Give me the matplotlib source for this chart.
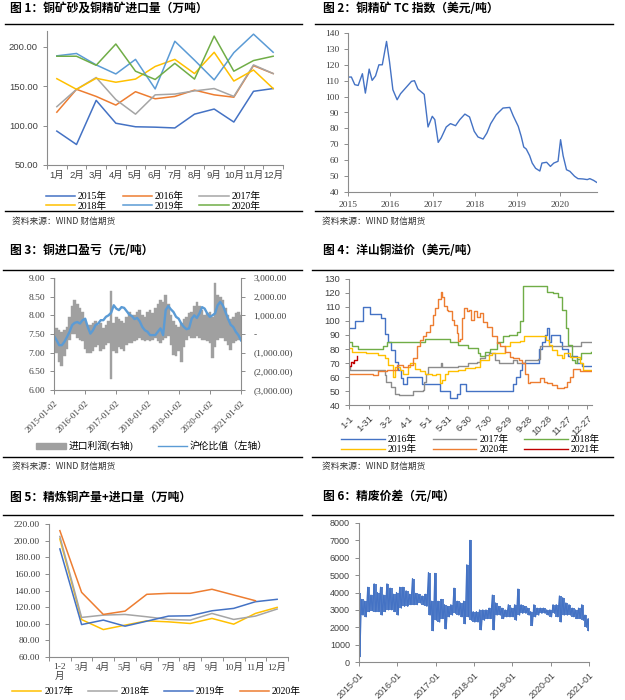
import numpy as np
import matplotlib
matplotlib.use('Agg')
import matplotlib.pyplot as plt
from matplotlib.lines import Line2D
from matplotlib.patches import Patch
from matplotlib.ticker import FuncFormatter, MultipleLocator

W, H = 625, 700
CJK = 'Noto Sans CJK SC'
SERIF = ['Liberation Serif', CJK]
SANS = ['Liberation Sans', CJK]

# ---- 图1 铜矿砂及铜精矿进口量 (万吨)
months1 = ['1月', '2月', '3月', '4月', '5月', '6月', '7月', '8月', '9月', '10月', '11月', '12月']
imp_2015 = [93, 76, 132, 103, 98.5, 98, 97, 114.5, 121, 104.5, 143.5, 147]
imp_2016 = [117, 146, 137, 126, 143, 134, 137, 145, 139, 136, 176, 166]
imp_2017 = [124, 146, 161, 133, 114.5, 139, 140, 144, 147, 137, 177, 166]
imp_2018 = [159.5, 146, 160, 155, 159, 175, 184, 166, 193, 156.5, 170.5, 147]
imp_2019 = [188.5, 191.5, 177, 165.5, 184, 146.5, 207, 183, 158, 192.5, 216, 193]
imp_2020 = [188, 188, 176.5, 203.5, 169, 158.5, 179, 159, 213.5, 169, 182.5, 188]

# ---- 图2 铜精矿TC指数 (美元/吨)
tc_year = [2015.0, 2015.08, 2015.16, 2015.24, 2015.34, 2015.41, 2015.5, 2015.57, 2015.65,
           2015.73, 2015.81, 2015.91, 2015.98, 2016.06, 2016.16, 2016.24, 2016.38, 2016.5,
           2016.57, 2016.65, 2016.8, 2016.89, 2016.99, 2017.05, 2017.13, 2017.2, 2017.32,
           2017.42, 2017.54, 2017.64, 2017.76, 2017.87, 2017.98, 2018.07, 2018.19, 2018.28,
           2018.37, 2018.5, 2018.66, 2018.82, 2018.9, 2019.02, 2019.09, 2019.15, 2019.21,
           2019.29, 2019.35, 2019.43, 2019.53, 2019.58, 2019.69, 2019.78, 2019.86, 2019.96,
           2020.02, 2020.08, 2020.16, 2020.24, 2020.35, 2020.43, 2020.55, 2020.65, 2020.71,
           2020.8, 2020.87]
tc_value = [112.3, 112.3, 107.5, 107, 114.4, 102.2, 117.3, 110.2, 113, 120, 120, 134.7, 122,
            104.3, 98, 101.8, 106, 109.6, 110, 104.8, 101.4, 80.9, 87.6, 85.5, 71.2, 74, 80.9,
            83, 81.7, 85.5, 89, 87.2, 78.2, 74.6, 73.3, 77.1, 83, 88.6, 92.8, 93.2, 88, 81.3,
            75, 68.3, 67, 62.8, 58.2, 54.9, 53.2, 58.2, 58.7, 56.1, 58.2, 59.3, 72.9, 62.8, 54,
            53, 49.9, 48.4, 48.2, 47.8, 48.4, 47.3, 46.1]

# ---- 图3 铜进口盈亏: monthly high / low of import profit (元/吨) and 沪伦比值
date_labels3 = ['2015-01-02', '2016-01-02', '2017-01-02', '2018-01-02',
                '2019-01-02', '2020-01-02', '2021-01-02']
profit_hi = [3000, 300, 200, 100, 200, 400, 900, 1500, 1800, 1600, 1400, 1200, 800, 500, 500,
             600, 700, 500, 600, 300, 500, 700, 2300, 600, 900, 800, 700, 600, 900, 1200, 1000,
             1000, 1200, 1300, 1000, 900, 1200, 1300, 1100, 1400, 1600, 1800, 1700, 2100, 1600,
             1000, 700, 500, 400, 600, 800, 900, 1100, 1200, 1500, 1700, 1500, 1300, 1000, 1100,
             1200, 900, 2750, 2100, 2000, 1800, 1400, 1000, 800, 900, 1100, 1200, 1000]
profit_lo = [-700, -1000, -1500, -1700, -1200, -800, -300, 0, 0, -200, -300, -400, -800, -1000,
             -1000, -900, -700, -600, -900, -800, -600, -500, -2400, -900, -1000, -700, -800,
             -900, -600, -500, -500, -400, -300, -200, -300, -400, -300, -400, -300, -200, -400,
             -500, -300, -200, -100, -600, -1100, -1200, -900, -1500, -700, -300, -100, -200,
             -200, -100, -200, -300, -300, -400, -500, -1300, -700, -300, -200, -200, -400, -600,
             -850, -500, -400, -300, -200]
ratio = [7.45, 7.33, 7.2, 7.2, 7.29, 7.42, 7.56, 7.74, 7.8, 7.82, 7.78, 7.87, 7.91, 7.69, 7.51,
         7.6, 7.74, 7.78, 7.87, 7.87, 7.96, 8.0, 8.07, 8.27, 8.18, 8.14, 8.22, 8.2, 8.11, 8.02,
         7.98, 7.9, 7.93, 7.84, 7.69, 7.6, 7.56, 7.47, 7.47, 7.47, 7.56, 7.65, 7.47, 8.14, 8.25,
         8.16, 8.09, 7.96, 7.91, 7.78, 7.69, 7.63, 7.65, 7.91, 8.0, 7.93, 8.05, 8.22, 8.18, 8.05,
         7.96, 8.0, 8.05, 8.27, 8.36, 8.27, 8.09, 7.91, 7.75, 7.69, 7.56, 7.47, 7.33]

# ---- 图4 洋山铜溢价 (美元/吨), x = day of year
day_labels4 = ['1-1', '1-31', '3-2', '4-1', '5-1', '5-31', '6-30', '7-30', '8-29', '9-28',
               '10-28', '11-27', '12-27']
p16_day = [1, 6, 9, 16, 21, 26, 31, 46, 49, 54, 59, 64, 69, 74, 79, 82, 87, 88, 107, 110, 135,
           137, 145, 153, 160, 163, 168, 174, 176, 245, 247, 252, 258, 262, 283, 287, 291, 296,
           299, 302, 305, 318, 322, 330, 345, 352, 366]
p16_val = [95, 95, 100, 100, 110, 110, 105, 105, 102, 91, 85, 79, 71, 65, 59, 55, 55, 60, 60, 55,
           55, 50, 50, 45, 45, 48, 55, 55, 50, 50, 55, 60, 65, 70, 70, 80, 85, 90, 95, 85, 90,
           85, 80, 75, 70, 68, 68]
p17_day = [0, 2, 52, 54, 56, 64, 69, 75, 94, 97, 110, 112, 114, 117, 120, 137, 139, 141, 162,
           165, 180, 193, 198, 205, 212, 220, 226, 243, 248, 254, 263, 266, 285, 289, 330, 350,
           366]
p17_val = [68, 65, 65, 61.5, 56.5, 53, 48, 47.5, 47.5, 50, 50, 51, 56.5, 62, 67.5, 67.5, 70,
           67.5, 67.5, 68, 70, 70.5, 73.5, 76, 77, 72, 70, 70, 72, 70, 70, 72, 73, 82, 82.5, 85,
           85]
p18_day = [0, 5, 14, 49, 52, 57, 112, 115, 150, 153, 165, 180, 195, 198, 206, 213, 223, 233,
           241, 254, 259, 263, 296, 299, 308, 315, 322, 327, 330, 337, 342, 345, 350, 366]
p18_val = [85, 82, 80, 80, 82, 85, 85, 87.5, 87.5, 85, 83, 80.5, 77, 75, 78, 80, 85, 89, 90,
           92, 100, 125, 125, 121, 120, 117, 108, 95, 83, 72, 70, 73, 77.5, 78]
p19_day = [0, 4, 24, 26, 39, 44, 54, 59, 66, 69, 77, 82, 89, 92, 99, 107, 115, 125, 132, 137,
           141, 145, 150, 165, 175, 190, 198, 211, 216, 228, 236, 243, 259, 264, 294, 297, 302,
           307, 314, 322, 325, 332, 334, 347, 349, 353, 366]
p19_val = [80.5, 78, 78, 77, 77, 76, 73.5, 68.5, 60, 67.5, 65, 62.5, 67.5, 70, 66, 64, 62.5,
           61.5, 62.5, 55.5, 58, 62.5, 64, 65, 66.5, 67.5, 72, 76, 77, 77, 82, 85, 86, 89, 89,
           86.5, 83, 79.5, 76, 73.5, 77, 77, 74.5, 74.5, 70, 65, 65]
p20_day = [0, 36, 44, 57, 72, 82, 89, 97, 102, 107, 112, 117, 122, 127, 130, 135, 139, 141, 144,
           148, 150, 155, 159, 163, 165, 168, 170, 174, 178, 181, 185, 189, 193, 198, 203, 208,
           216, 223, 228, 236, 243, 248, 256, 261, 266, 271, 274, 289, 294, 299, 307, 314, 319,
           324, 329, 334, 338, 342, 349, 366]
p20_val = [62.5, 61.5, 64, 65, 68.5, 67.5, 68.5, 73.5, 82, 86.5, 89, 92.5, 97.5, 104.5, 109,
           116, 121, 117.5, 110.5, 108, 107, 101, 97.5, 91.5, 85.5, 87.5, 102, 109, 107, 108,
           101, 107, 103, 105.5, 99.5, 96, 89, 84, 82, 78, 74.5, 73.5, 72, 70, 62.5, 55.5, 56.5,
           59, 56.5, 55.5, 54.5, 52.5, 52, 53, 56.5, 60, 66, 66, 64.5, 64]
p21_day = [1, 3, 6, 8, 11, 12]
p21_val = [68, 71, 70, 72, 72, 75]

# ---- 图5 精炼铜产量+进口量 (万吨)
months5 = ['1-2\n月', '3月', '4月', '5月', '6月', '7月', '8月', '9月', '10月', '11月', '12月']
sup_2017 = [202, 105, 93, 98.3, 103.5, 102.3, 100.3, 106.4, 99.5, 112.4, 119.7]
sup_2018 = [205, 107.6, 110.4, 111.2, 108.4, 105.2, 104.4, 112.4, 105.2, 109.2, 117.7]
sup_2019 = [190, 99, 104.4, 97.1, 103.1, 109.2, 109.6, 115.6, 118.5, 126.5, 129.4]
sup_2020 = [212, 137.8, 111.2, 115.2, 135.4, 136.6, 136.6, 141.5, 134.6, 127.7, np.nan]

# ---- 图6 精废价差 (元/吨): monthly high / low
date_labels6 = ['2015-01', '2016-01', '2017-01', '2018-01', '2019-01', '2020-01', '2021-01']
spread_hi = [4000, 3600, 3500, 4300, 3850, 4500, 4000, 4300, 3850, 4500, 4250, 3900, 4000, 4300,
             4300, 4100, 3900, 4800, 3950, 3900, 3800, 3900, 5150, 3500, 5100, 3500, 3600, 3300,
             3200, 3300, 4250, 3500, 3400, 3500, 5600, 7000, 2900, 2900, 3000, 3000, 3000, 3100,
             3850, 3400, 3200, 3100, 3000, 3300, 3100, 3300, 4200, 3300, 3200, 3100, 2900, 3300,
             3100, 3100, 3100, 3000, 3000, 3300, 3300, 3800, 3700, 3400, 3300, 3100, 3000, 3100,
             3300, 2700, 2500]
spread_lo = [300, 2700, 2600, 2900, 2950, 2900, 2900, 2700, 2900, 3000, 3000, 2900, 2700, 3100,
             3200, 3200, 3300, 3300, 3300, 3400, 3300, 3200, 2700, 1800, 2400, 2300, 2500, 1900,
             2600, 2700, 2800, 2700, 2600, 2200, 2600, 2400, 2300, 2300, 1850, 2400, 2500, 2500,
             1850, 2700, 2700, 2500, 2600, 2600, 2600, 2400, 2700, 2800, 2800, 2700, 2100, 2600,
             2700, 2800, 2800, 2700, 2600, 2800, 2600, 2300, 2700, 2700, 2700, 2600, 2500, 2500,
             2400, 2000, 1800]

C_BLUE = '#4472C4'
C_ORANGE = '#ED7D31'
C_GRAY = '#A5A5A5'
C_YELLOW = '#FFC000'
C_LBLUE = '#5B9BD5'
C_GREEN = '#70AD47'

fig = plt.figure(figsize=(6.25, 7), dpi=100)


def rect(x0, y0, x1, y1):
    return [x0 / W, 1 - y1 / H, (x1 - x0) / W, (y1 - y0) / H]


def fx(x):
    return x / W


def fy(y):
    return 1 - y / H


def hrule(x0, x1, y):
    fig.add_artist(Line2D([fx(x0), fx(x1)], [fy(y), fy(y)], color='black', lw=1.0,
                          transform=fig.transFigure))


def header(x, y, text):
    fig.text(fx(x), fy(y), text, family=[CJK], weight='bold', fontsize=8.5,
             va='center', ha='left')


def source(x, y):
    fig.text(fx(x), fy(y), '资料来源：WIND 财信期货', family=[CJK], fontsize=6.3,
             va='center', ha='left', color='#333333')


def style(ax, font, size=6.8):
    for s in ['top', 'right']:
        ax.spines[s].set_visible(False)
    for s in ['left', 'bottom']:
        ax.spines[s].set_color('#8c8c8c')
        ax.spines[s].set_linewidth(0.8)
    ax.tick_params(which='both', colors='#8c8c8c', labelcolor='#404040', length=3,
                   width=0.7, labelsize=size, labelfontfamily=font)
    ax.set_facecolor('none')


def reorder(ax, nrow):
    # matplotlib fills legend columns first; Excel fills rows first
    h, l = ax.get_legend_handles_labels()
    ncol = int(np.ceil(len(h) / nrow))
    idx = [r * ncol + c for c in range(ncol) for r in range(nrow)]
    return [h[i] for i in idx], [l[i] for i in idx]


# ============ 图1
header(10, 8, '图 1：铜矿砂及铜精矿进口量（万吨）')
hrule(5, 302, 24)
ax1 = fig.add_axes(rect(47, 31, 283, 165))
x1 = np.arange(len(months1))
for vals, col, lab in [(imp_2015, C_BLUE, '2015年'), (imp_2016, C_ORANGE, '2016年'),
                       (imp_2017, C_GRAY, '2017年'), (imp_2018, C_YELLOW, '2018年'),
                       (imp_2019, C_LBLUE, '2019年'), (imp_2020, C_GREEN, '2020年')]:
    ax1.plot(x1, vals, color=col, lw=1.1, label=lab)
ax1.set_xlim(-0.5, 11.5)
ax1.set_ylim(50, 220)
ax1.set_yticks([50, 100, 150, 200])
ax1.yaxis.set_major_formatter(FuncFormatter(lambda v, p: f'{v:.2f}'))
ax1.set_xticks(x1)
ax1.set_xticklabels(months1)
ax1.set_xticks(np.arange(-0.5, 12), minor=True)
style(ax1, SANS)
ax1.tick_params(axis='x', which='major', length=0, pad=4)
h1, l1 = reorder(ax1, 2)
ax1.legend(h1, l1, loc='center', bbox_to_anchor=(0.45, -0.27), ncol=3, frameon=False,
           prop={'family': SERIF, 'size': 7}, handlelength=3.0, columnspacing=1.6,
           labelspacing=0.05, handletextpad=0.3)
hrule(5, 302, 211)
source(12, 221)

# ============ 图2
header(323, 8, '图 2：铜精矿 TC 指数（美元/吨）')
hrule(315, 613, 24)
ax2 = fig.add_axes(rect(348, 33, 597, 192))
ax2.plot(tc_year, tc_value, color=C_BLUE, lw=1.0)
ax2.set_xlim(2015, 2020.88)
ax2.set_ylim(40, 140)
ax2.yaxis.set_major_locator(MultipleLocator(10))
ax2.set_xticks([2015, 2016, 2017, 2018, 2019, 2020])
ax2.set_xticklabels(['2015', '2016', '2017', '2018', '2019', '2020'])
style(ax2, SERIF)
hrule(315, 613, 211)
source(322, 221)

# ============ 图3
header(10, 251, '图 3：铜进口盈亏（元/吨）')
hrule(3, 302, 270)
ax3 = fig.add_axes(rect(54, 278, 241, 390))
m3 = np.arange(len(profit_hi))
lo3 = np.minimum(profit_lo, 0)
hi3 = np.maximum(profit_hi, 0)
ax3.bar(m3, hi3 - lo3, bottom=lo3, width=1.0, color='#A0A0A0', edgecolor='#A0A0A0',
        linewidth=0.3)
ax3.set_ylim(-3000, 3000)
ax3.set_xlim(0, 72)
ax3l = ax3.twinx()
ax3l.plot(m3, ratio, color=C_LBLUE, lw=1.7)
ax3l.set_ylim(6, 9)
ax3.yaxis.tick_right()
ax3.yaxis.set_label_position('right')
ax3l.yaxis.tick_left()
ax3.yaxis.set_major_locator(MultipleLocator(1000))


def acct(v, pos):
    if abs(v) < 1e-9:
        return '-'
    s = f'{abs(v):,.2f}'
    return f'({s})' if v < 0 else s


ax3.yaxis.set_major_formatter(FuncFormatter(acct))
ax3l.yaxis.set_major_locator(MultipleLocator(0.5))
ax3l.yaxis.set_major_formatter(FuncFormatter(lambda v, p: f'{v:.2f}'))
style(ax3, SERIF)
style(ax3l, SERIF)
ax3.spines['right'].set_visible(True)
ax3.spines['right'].set_color('#8c8c8c')
ax3.spines['left'].set_visible(False)
ax3l.spines['bottom'].set_visible(False)
ax3l.spines['left'].set_visible(True)
ax3.set_xticks(np.arange(0, 73, 12))
ax3.set_xticklabels(date_labels3, rotation=45, ha='right', rotation_mode='anchor',
                    fontsize=6.5)
ax3.tick_params(axis='y', pad=6)
h3 = [Patch(color='#A0A0A0', label='进口利润(右轴)'),
      Line2D([], [], color=C_LBLUE, lw=1.0, label='沪伦比值（左轴）')]
fig.legend(handles=h3, loc='center', bbox_to_anchor=(fx(152), fy(446)), ncol=2,
           frameon=False, prop={'family': SERIF, 'size': 7}, handlelength=3.0,
           handleheight=0.6, columnspacing=2.5, handletextpad=0.3)
hrule(3, 302, 457)
source(12, 466)

# ============ 图4
header(323, 251, '图 4：洋山铜溢价（美元/吨）')
hrule(312, 613, 270)
ax4 = fig.add_axes(rect(349, 279, 592, 405))
for d, v, col, lab in [(p16_day, p16_val, C_BLUE, '2016年'), (p17_day, p17_val, '#8c8c8c', '2017年'),
                       (p18_day, p18_val, C_GREEN, '2018年'), (p19_day, p19_val, C_YELLOW, '2019年'),
                       (p20_day, p20_val, C_ORANGE, '2020年'), (p21_day, p21_val, '#C00000', '2021年')]:
    ax4.plot(d, v, color=col, lw=1.0, drawstyle='steps-post', label=lab)
ax4.set_xlim(0, 367)
ax4.set_ylim(40, 130)
ax4.yaxis.set_major_locator(MultipleLocator(10))
ax4.set_xticks(np.arange(0, 361, 30))
ax4.set_xticklabels(day_labels4, rotation=45, ha='right', rotation_mode='anchor')
style(ax4, SANS)
h4, l4 = reorder(ax4, 2)
ax4.legend(h4, l4, loc='center', bbox_to_anchor=(0.5, -0.315), ncol=3, frameon=False,
           prop={'family': SERIF, 'size': 7}, handlelength=4.5, columnspacing=1.6,
           labelspacing=0.05, handletextpad=0.3)
hrule(312, 613, 457)
source(322, 466)

# ============ 图5
header(10, 497, '图 5：精炼铜产量+进口量（万吨）')
hrule(3, 302, 515)
ax5 = fig.add_axes(rect(49, 524, 288, 657))
x5 = np.arange(len(months5))
for vals, col, lab in [(sup_2017, C_YELLOW, '2017年'), (sup_2018, C_GRAY, '2018年'),
                       (sup_2019, C_BLUE, '2019年'), (sup_2020, C_ORANGE, '2020年')]:
    ax5.plot(x5, vals, color=col, lw=1.1, label=lab)
ax5.set_xlim(-0.5, 10.5)
ax5.set_ylim(60, 220)
ax5.yaxis.set_major_locator(MultipleLocator(20))
ax5.yaxis.set_major_formatter(FuncFormatter(lambda v, p: f'{v:.2f}'))
ax5.set_xticks(x5)
ax5.set_xticklabels(months5, va='top')
ax5.set_xticks(np.arange(-0.5, 11), minor=True)
style(ax5, SERIF)
ax5.tick_params(axis='x', which='major', length=0, pad=4)
ax5.legend(loc='center', bbox_to_anchor=(0.45, -0.26), ncol=4, frameon=False,
           prop={'family': SERIF, 'size': 7}, handlelength=3.0, columnspacing=1.5,
           handletextpad=0.3)

# ============ 图6
header(323, 497, '图 6：精废价差（元/吨）')
hrule(312, 613, 515)
ax6 = fig.add_axes(rect(359, 523, 589, 662))
m6 = np.arange(len(spread_hi))
ax6.fill_between(m6, spread_lo, spread_hi, step='mid', color=C_BLUE, lw=0, alpha=0.9)
x6 = np.clip(np.ravel(np.column_stack([m6 - 0.25, m6 + 0.25])), 0, 72)
y6 = np.ravel(np.column_stack([spread_hi, spread_lo]))
ax6.plot(x6, y6, color=C_BLUE, lw=0.9)
ax6.set_xlim(0, 72)
ax6.set_ylim(0, 8000)
ax6.yaxis.set_major_locator(MultipleLocator(1000))
ax6.set_xticks(np.arange(0, 73, 12))
ax6.set_xticklabels(date_labels6, rotation=45, ha='right', rotation_mode='anchor')
style(ax6, SANS, 6.5)

fig.savefig('out.png', dpi=100)
